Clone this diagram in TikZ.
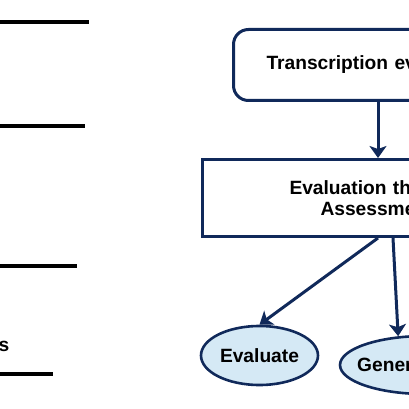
\documentclass[tikz,border=0pt]{standalone}
\usepackage{fontspec}
\setmainfont{Liberation Sans}
\usetikzlibrary{arrows.meta,shapes.geometric}
\definecolor{navy}{HTML}{10295A}
\definecolor{paleblue}{HTML}{D5E9F5}
\begin{document}
\begin{tikzpicture}[x=1pt,y=-1pt,
    box/.style={draw=navy,line width=3pt,inner ysep=0pt,align=left,
      font=\fontsize{19.2}{21}\selectfont\bfseries},
    oval/.style={ellipse,draw=navy,line width=2.6pt,fill=paleblue,inner sep=0pt,
      font=\fontsize{19.2}{21}\selectfont\bfseries},
    label text/.style={inner sep=0pt,font=\fontsize{19.2}{21}\selectfont\bfseries},
    bar/.style={line width=3.2pt},
    arr/.style={draw=navy,line width=3pt,-{Stealth[length=12pt,width=17pt,inset=3pt]}}]
    \useasboundingbox (0,0) rectangle (409,409);
    \clip (0,0) rectangle (409,409);
    % left column, cut off by the edge
    \foreach \y/\x in {22/89,126/85,266/77,374/53}
      \draw[bar] (0,\y) -- (\x,\y);
    \node[label text,anchor=base east] (stext) at (9.5,351) {s};
    % boxes
    \node[box,rounded corners=15pt,anchor=north west,minimum height=71pt,
      text width=220pt,inner xsep=33pt] (trans) at (232,28) {Transcription ev};
    \node[box,anchor=north west,minimum height=77pt,
      text width=200pt,inner xsep=87pt] (evalbox) at (201,158)
      {Evaluation th\\\hspace*{31pt}Assessme};
    % ovals
    \node[oval,minimum width=117pt,minimum height=59pt] (evaluate) at (259.5,355.5) {Evaluate};
    \node[oval,minimum width=170pt,minimum height=58pt] (gen) at (425,365) {};
    \node[label text,anchor=base west] (gentext) at (357,371) {Gener};
    % arrows
    \coordinate (c1) at (378,0);
    \coordinate (c2) at (393,0);
    \draw[arr] (trans.south -| c1) -- (evalbox.north -| c1);
    \draw[arr] (evalbox.south -| c1) -- (evaluate.north);
    \draw[arr] (evalbox.south -| c2) -- (gen.133);
  \end{tikzpicture}
\end{document}
